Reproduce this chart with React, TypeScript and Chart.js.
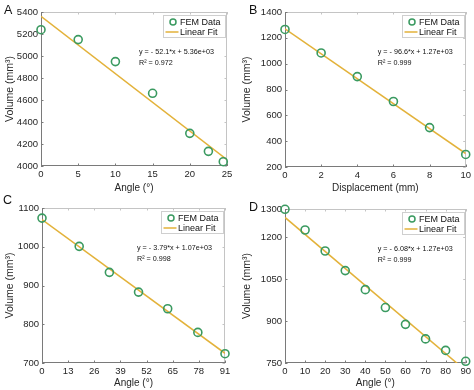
import React, { useEffect, useRef } from "react";
import { Chart, registerables } from "chart.js";

Chart.register(...registerables);

// ---------- Panel A ----------
const aAngle = [0, 5, 10, 15, 20, 22.5, 24.5];
const aVolume = [5239, 5149, 4949, 4661, 4297, 4133, 4039];
const aFitX = [0, 25];
const aFitY = [5360, 4057.5];
const aXTicks = [0, 5, 10, 15, 20, 25];
const aYTicks = [4000, 4200, 4400, 4600, 4800, 5000, 5200, 5400];
const aEquation = "y = - 52.1*x + 5.36e+03";
const aR2 = "R\u00B2 = 0.972";

// ---------- Panel B ----------
const bDisp = [0, 2, 4, 6, 8, 10];
const bVolume = [1265, 1083, 900, 707, 505, 297];
const bFitX = [0, 10];
const bFitY = [1270, 304];
const bXTicks = [0, 2, 4, 6, 8, 10];
const bYTicks = [200, 400, 600, 800, 1000, 1200, 1400];
const bEquation = "y = - 96.6*x + 1.27e+03";
const bR2 = "R\u00B2 = 0.999";

// ---------- Panel C ----------
const cAngle = [0, 18.5, 33.5, 48, 62.5, 77.5, 91];
const cVolume = [1074, 1001, 934, 883, 840, 779, 724];
const cFitX = [0, 91];
const cFitY = [1070, 725.1];
const cXTicks = [0, 13, 26, 39, 52, 65, 78, 91];
const cYTicks = [700, 800, 900, 1000, 1100];
const cEquation = "y = - 3.79*x + 1.07e+03";
const cR2 = "R\u00B2 = 0.998";

// ---------- Panel D ----------
const dAngle = [0, 10, 20, 30, 40, 50, 60, 70, 80, 90];
const dVolume = [1299, 1225, 1150, 1080, 1012, 948, 888, 836, 795, 756];
const dFitX = [0, 90];
const dFitY = [1270, 722.8];
const dXTicks = [0, 10, 20, 30, 40, 50, 60, 70, 80, 90];
const dYTicks = [750, 900, 1050, 1200, 1300];
const dEquation = "y = - 6.08*x + 1.27e+03";
const dR2 = "R\u00B2 = 0.999";

const legendLabels = ["FEM Data", "Linear Fit"];
const yTitle = "Volume (mm\u00B3)";

const GREEN = "#3a9a60";
const GOLD = "#e3b23a";
const TEXT = "#262626";
const FONT = "'Liberation Sans', Arial, sans-serif";

type PanelProps = {
  letter: string;
  letterX: number;
  letterY: number;
  left: number;
  top: number;
  xs: number[];
  ys: number[];
  fitX: number[];
  fitY: number[];
  xTicks: number[];
  yTicks: number[];
  xTitle: string;
  equation: string;
  r2: string;
  areaLeft: number;
  areaRight: number;
  areaTop: number;
  areaBottom: number;
};

const W = 237;
const H = 195;

const decorPlugin = {
  id: "panelDecor",
  beforeDatasetsDraw(chart: any) {
    const ctx = chart.ctx;
    const ca = chart.chartArea;
    const xs = chart.scales.x;
    const ys = chart.scales.y;
    ctx.save();
    ctx.lineWidth = 1;
    ctx.strokeStyle = "#c4c4c4";
    ctx.beginPath();
    ctx.moveTo(ca.left, Math.round(ca.top) + 0.5);
    ctx.lineTo(ca.right, Math.round(ca.top) + 0.5);
    ctx.moveTo(Math.round(ca.right) - 0.5, ca.top);
    ctx.lineTo(Math.round(ca.right) - 0.5, ca.bottom);
    ctx.stroke();
    const tl = 2.5;
    ctx.beginPath();
    xs.ticks.forEach((t: any) => {
      const px = Math.round(xs.getPixelForValue(t.value)) + 0.5;
      ctx.moveTo(px, ca.top);
      ctx.lineTo(px, ca.top + tl);
    });
    ys.ticks.forEach((t: any) => {
      const py = Math.round(ys.getPixelForValue(t.value)) + 0.5;
      ctx.moveTo(ca.right, py);
      ctx.lineTo(ca.right - tl, py);
    });
    ctx.stroke();
    ctx.strokeStyle = "#7a7a7a";
    ctx.beginPath();
    ctx.moveTo(Math.round(ca.left) + 0.5, ca.top);
    ctx.lineTo(Math.round(ca.left) + 0.5, ca.bottom);
    ctx.moveTo(ca.left, Math.round(ca.bottom) - 0.5);
    ctx.lineTo(ca.right, Math.round(ca.bottom) - 0.5);
    ctx.stroke();
    ctx.beginPath();
    xs.ticks.forEach((t: any) => {
      const px = Math.round(xs.getPixelForValue(t.value)) + 0.5;
      ctx.moveTo(px, ca.bottom);
      ctx.lineTo(px, ca.bottom - tl);
    });
    ys.ticks.forEach((t: any) => {
      const py = Math.round(ys.getPixelForValue(t.value)) + 0.5;
      ctx.moveTo(ca.left, py);
      ctx.lineTo(ca.left + tl, py);
    });
    ctx.stroke();
    ctx.restore();
  },
  afterDraw(chart: any, _args: any, opts: any) {
    const ctx = chart.ctx;
    const ca = chart.chartArea;
    ctx.save();
    ctx.fillStyle = "#111";
    ctx.font = `12.5px ${FONT}`;
    ctx.textAlign = "left";
    ctx.textBaseline = "alphabetic";
    ctx.fillText(opts.letter, opts.letterX, opts.letterY);

    const boxW = 62;
    const boxH = 22;
    const bx = Math.round(ca.right - 2 - boxW) + 0.5;
    const by = Math.round(ca.top + 3) + 0.5;
    ctx.fillStyle = "#ffffff";
    ctx.fillRect(bx, by, boxW, boxH);
    ctx.strokeStyle = "#cfcfcf";
    ctx.lineWidth = 1;
    ctx.strokeRect(bx, by, boxW, boxH);
    ctx.strokeStyle = GREEN;
    ctx.lineWidth = 1.5;
    ctx.beginPath();
    ctx.arc(bx + 9.5, by + 6.5, 3, 0, Math.PI * 2);
    ctx.stroke();
    ctx.strokeStyle = GOLD;
    ctx.lineWidth = 1.5;
    ctx.beginPath();
    ctx.moveTo(bx + 2, by + 16.5);
    ctx.lineTo(bx + 15, by + 16.5);
    ctx.stroke();
    ctx.fillStyle = "#111";
    ctx.font = `9px ${FONT}`;
    ctx.textBaseline = "middle";
    ctx.fillText(opts.legend[0], bx + 16.5, by + 7);
    ctx.fillText(opts.legend[1], bx + 16.5, by + 17);

    ctx.font = `7.2px ${FONT}`;
    ctx.fillText(opts.equation, ca.right - 88, ca.top + 40);
    ctx.fillText(opts.r2, ca.right - 88, ca.top + 51);
    ctx.restore();
  },
};

function Panel(p: PanelProps) {
  const ref = useRef<HTMLCanvasElement | null>(null);
  useEffect(() => {
    if (!ref.current) return;
    const tickFont = { family: FONT, size: 9.5 };
    const titleFont = { family: FONT, size: 10 };
    const chart = new Chart(ref.current, {
      type: "scatter",
      data: {
        datasets: [
          {
            label: legendLabels[0],
            data: p.xs.map((x, i) => ({ x, y: p.ys[i] })),
            showLine: false,
            pointRadius: 4,
            pointBorderWidth: 1.6,
            pointBorderColor: GREEN,
            pointBackgroundColor: "rgba(0,0,0,0)",
            clip: false,
            order: 0,
          } as any,
          {
            label: legendLabels[1],
            data: p.fitX.map((x, i) => ({ x, y: p.fitY[i] })),
            showLine: true,
            borderColor: GOLD,
            borderWidth: 1.5,
            pointRadius: 0,
            clip: 0,
            order: 1,
          } as any,
        ],
      },
      options: {
        animation: false,
        responsive: false,
        devicePixelRatio: 1,
        events: [],
        layout: {
          padding: {
            left: 0,
            top: p.areaTop,
            right: W - p.areaRight,
            bottom: 0,
          },
        },
        plugins: {
          legend: { display: false },
          tooltip: { enabled: false },
          panelDecor: {
            letter: p.letter,
            letterX: p.letterX,
            letterY: p.letterY,
            legend: legendLabels,
            equation: p.equation,
            r2: p.r2,
          },
        } as any,
        scales: {
          x: {
            type: "linear",
            min: p.xTicks[0],
            max: p.xTicks[p.xTicks.length - 1],
            afterBuildTicks: (s: any) => {
              s.ticks = p.xTicks.map((v) => ({ value: v }));
            },
            afterFit: (s: any) => {
              s.height = H - p.areaBottom;
            },
            grid: { display: false, drawTicks: false },
            border: { display: false },
            ticks: {
              padding: 3,
              color: TEXT,
              font: tickFont,
              maxRotation: 0,
              autoSkip: false,
              callback: (v: any) => String(v),
            },
            title: {
              display: true,
              text: p.xTitle,
              color: TEXT,
              font: titleFont,
              padding: { top: 0, bottom: 1 },
            },
          },
          y: {
            type: "linear",
            min: p.yTicks[0],
            max: p.yTicks[p.yTicks.length - 1],
            afterBuildTicks: (s: any) => {
              s.ticks = p.yTicks.map((v) => ({ value: v }));
            },
            afterFit: (s: any) => {
              s.width = p.areaLeft;
            },
            grid: { display: false, drawTicks: false },
            border: { display: false },
            ticks: {
              padding: 3,
              color: TEXT,
              font: tickFont,
              autoSkip: false,
              callback: (v: any) => String(v),
            },
            title: {
              display: true,
              text: yTitle,
              color: TEXT,
              font: { family: FONT, size: 10.5 },
              padding: { top: 4, bottom: 0 },
            },
          },
        },
      },
      plugins: [decorPlugin],
    });
    return () => chart.destroy();
  }, []);
  return (
    <canvas
      ref={ref}
      width={W}
      height={H}
      style={{ position: "absolute", left: p.left, top: p.top, width: W, height: H }}
    />
  );
}

export default function App() {
  return (
    <div
      style={{
        position: "fixed",
        left: 0,
        top: 0,
        width: 474,
        height: 390,
        background: "#ffffff",
        overflow: "hidden",
      }}
    >
      <Panel
        letter="A" letterX={4} letterY={13.5}
        left={0} top={0}
        xs={aAngle} ys={aVolume} fitX={aFitX} fitY={aFitY}
        xTicks={aXTicks} yTicks={aYTicks}
        xTitle={"Angle (\u00B0)"} equation={aEquation} r2={aR2}
        areaLeft={41} areaRight={227} areaTop={12} areaBottom={166}
      />
      <Panel
        letter="B" letterX={12} letterY={13.5}
        left={237} top={0}
        xs={bDisp} ys={bVolume} fitX={bFitX} fitY={bFitY}
        xTicks={bXTicks} yTicks={bYTicks}
        xTitle="Displacement (mm)" equation={bEquation} r2={bR2}
        areaLeft={48} areaRight={231} areaTop={12} areaBottom={167}
      />
      <Panel
        letter="C" letterX={3} letterY={8.5}
        left={0} top={195}
        xs={cAngle} ys={cVolume} fitX={cFitX} fitY={cFitY}
        xTicks={cXTicks} yTicks={cYTicks}
        xTitle={"Angle (\u00B0)"} equation={cEquation} r2={cR2}
        areaLeft={42} areaRight={225} areaTop={13} areaBottom={168}
      />
      <Panel
        letter="D" letterX={12} letterY={16}
        left={237} top={195}
        xs={dAngle} ys={dVolume} fitX={dFitX} fitY={dFitY}
        xTicks={dXTicks} yTicks={dYTicks}
        xTitle={"Angle (\u00B0)"} equation={dEquation} r2={dR2}
        areaLeft={48} areaRight={231} areaTop={14} areaBottom={168}
      />
    </div>
  );
}
